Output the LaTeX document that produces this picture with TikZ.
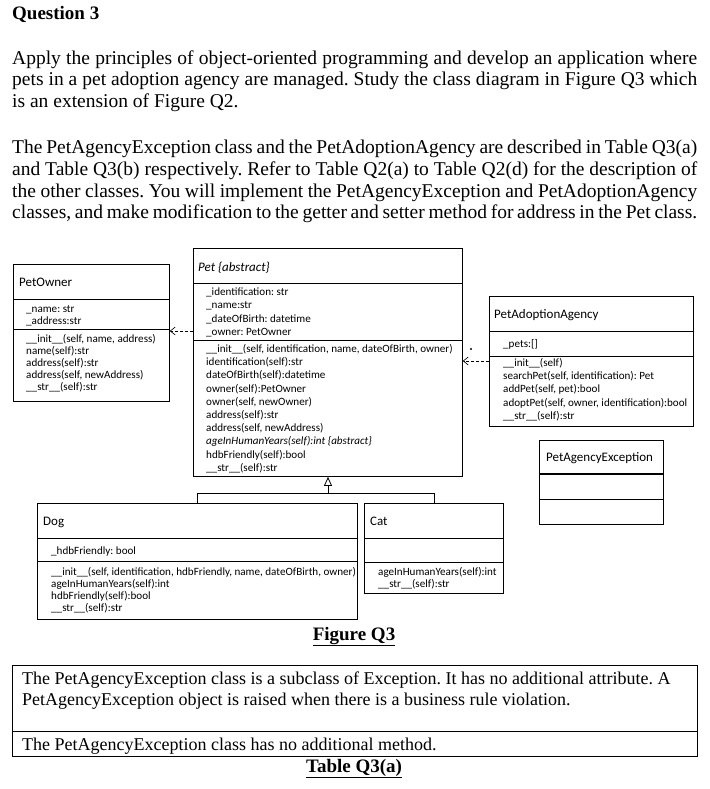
\documentclass[tikz,border=0pt]{standalone}
\usepackage{fontspec}
\setmainfont{Liberation Serif}
\newfontfamily\umlfont{Carlito}
\usetikzlibrary{arrows.meta}
\frenchspacing
\newcommand\umlrows[5]{%
  \foreach \t [count=\i from 0] in {#5} {\node[umlt] (#1-\i) at (#2, #3+\i*#4) {\t};}}
\begin{document}
\begin{tikzpicture}[x=1pt,y=-1pt,
  para/.style={font=\fontsize{19.5}{21}\selectfont, anchor=base west, inner sep=0},
  tabt/.style={font=\fontsize{18}{21}\selectfont, anchor=base west, inner sep=0},
  capt/.style={font=\bfseries\fontsize{19}{22}\selectfont, anchor=base, inner sep=0},
  umlt/.style={font=\umlfont\fontsize{11.1}{13}\selectfont, anchor=base west, inner sep=0},
  umltitle/.style={font=\umlfont\fontsize{13}{15}\selectfont, anchor=base west, inner sep=0},
  umlbox/.style={draw, line width=0.8pt, anchor=north west, inner sep=0},
  divider/.style={line width=0.8pt},
  dep/.style={line width=0.6pt, dash pattern=on 3pt off 2pt, -{Straight Barb[length=5pt,width=8pt,line width=0.6pt]}},
  gen/.style={line width=0.8pt}
]
\useasboundingbox (0,0) rectangle (709,789);

% ---------- text above ----------
\node[para, font=\bfseries\fontsize{19}{21}\selectfont] (q3) at (12,20) {Question 3};
\node[para] (p1a) at (12,65) {\makebox[685pt][s]{Apply the principles of object-oriented programming and develop an application where}};
\node[para] (p1b) at (12,86) {\makebox[685pt][s]{pets in a pet adoption agency are managed. Study the class diagram in Figure Q3 which}};
\node[para] (p1c) at (12,107) {is an extension of Figure Q2.};
\node[para] (p2a) at (12,153) {\makebox[685pt][s]{The PetAgencyException class and the PetAdoptionAgency are described in Table Q3(a)}};
\node[para] (p2b) at (12,175) {\makebox[685pt][s]{and Table Q3(b) respectively. Refer to Table Q2(a) to Table Q2(d) for the description of}};
\node[para] (p2c) at (12,197) {\makebox[685pt][s]{the other classes. You will implement the PetAgencyException and PetAdoptionAgency}};
\node[para] (p2d) at (12,218) {\makebox[685pt][s]{classes, and make modification to the getter and setter method for address in the Pet class.}};

% ---------- PetOwner ----------
\node[umlbox, minimum width=156pt, minimum height=137pt] (owner) at (13,264) {};
\draw[divider] (owner.west |- 0,299) -- (owner.east |- 0,299);
\draw[divider] (owner.west |- 0,329) -- (owner.east |- 0,329);
\node[umltitle] (owner-t) at (19,286.5) {PetOwner};
\umlrows{owner-a}{26}{312.5}{12}{{\_name: str},{\_address:str}}
\umlrows{owner-m}{26}{342.5}{12}{{\_\_init\_\_(self, name, address)},{name(self):str},{address(self):str},{address(self, newAddress)},{\_\_str\_\_(self):str}}

% ---------- Pet ----------
\node[umlbox, minimum width=269pt, minimum height=228pt] (pet) at (193,248) {};
\draw[divider] (pet.west |- 0,283) -- (pet.east |- 0,283);
\draw[divider] (pet.west |- 0,340) -- (pet.east |- 0,340);
\node[umltitle, font=\umlfont\itshape\fontsize{13}{15}\selectfont] (pet-t) at (198,271.5) {Pet \{abstract\}};
\umlrows{pet-a}{206}{295.5}{13.3}{{\_identification: str},{\_name:str},{\_dateOfBirth: datetime},{\_owner: PetOwner}}
\umlrows{pet-m}{206}{352.5}{13.2}{{\_\_init\_\_(self, identification, name, dateOfBirth, owner)},{identification(self):str},{dateOfBirth(self):datetime},{owner(self):PetOwner},{owner(self, newOwner)},{address(self):str},{address(self, newAddress)},{\itshape ageInHumanYears(self):int \{abstract\}},{hdbFriendly(self):bool},{\_\_str\_\_(self):str}}

% ---------- PetAdoptionAgency ----------
\node[umlbox, minimum width=204pt, minimum height=130pt] (paa) at (489,296) {};
\draw[divider] (paa.west |- 0,331) -- (paa.east |- 0,331);
\draw[divider] (paa.west |- 0,356) -- (paa.east |- 0,356);
\node[umltitle] (paa-t) at (494,318.5) {PetAdoptionAgency};
\umlrows{paa-a}{503}{347.5}{13}{{\_pets:[]}}
\umlrows{paa-m}{503}{366.5}{13.2}{{\_\_init\_\_(self)},{searchPet(self, identification): Pet},{addPet(self, pet):bool},{adoptPet(self, owner, identification):bool},{\_\_str\_\_(self):str}}

% ---------- PetAgencyException ----------
\node[umlbox, minimum width=124pt, minimum height=84pt] (pae) at (539,440) {};
\draw[line width=1.4pt] (pae.west |- 0,474) -- (pae.east |- 0,474);
\draw[divider] (pae.west |- 0,499) -- (pae.east |- 0,499);
\node[umltitle] (pae-t) at (546,461.5) {PetAgencyException};

% ---------- Dog ----------
\node[umlbox, minimum width=320pt, minimum height=116pt] (dog) at (37,503) {};
\draw[divider] (dog.west |- 0,538) -- (dog.east |- 0,538);
\draw[divider] (dog.west |- 0,561) -- (dog.east |- 0,561);
\node[umltitle] (dog-t) at (43,525.5) {Dog};
\umlrows{dog-a}{51}{554.5}{12}{{\_hdbFriendly: bool}}
\umlrows{dog-m}{51}{575.5}{12}{{\_\_init\_\_(self, identification, hdbFriendly, name, dateOfBirth, owner)},{ageInHumanYears(self):int},{hdbFriendly(self):bool},{\_\_str\_\_(self):str}}

% ---------- Cat ----------
\node[umlbox, minimum width=139pt, minimum height=90pt] (cat) at (364,503) {};
\draw[divider] (cat.west |- 0,538) -- (cat.east |- 0,538);
\draw[divider] (cat.west |- 0,562) -- (cat.east |- 0,562);
\node[umltitle] (cat-t) at (370,525.5) {Cat};
\umlrows{cat-m}{378}{575.5}{12}{{ageInHumanYears(self):int},{\_\_str\_\_(self):str}}

% ---------- connectors ----------
\coordinate (d1s) at (pet.west |- 0,331);
\coordinate (d1e) at (owner.east |- 0,331);
\draw[dep] (d1s) -- (d1e);
\coordinate (d2s) at (paa.west |- 0,361);
\coordinate (d2e) at (pet.east |- 0,361);
\draw[dep] (d2s) -- (d2e);
\node[circle, fill, inner sep=0pt, minimum size=2.4pt] (mult) at (471,349) {};

\coordinate (gl) at (197,493);
\coordinate (gr) at (434,493);
\coordinate (gj) at (328,493);
\draw[gen] (dog.north west -| gl) -- (gl) -- (gr) -- (cat.north west -| gr);
\draw[gen, -{Triangle[open, length=9pt, width=8pt, line width=0.8pt]}] (gj) -- (pet.south -| gj);

% ---------- caption ----------
\node[capt] (figcap) at (354,640) {\underline{Figure Q3}};

% ---------- table ----------
\node[draw, line width=0.9pt, anchor=north west, inner sep=0, minimum width=685pt, minimum height=91pt] (tbl) at (12,665) {};
\draw[line width=0.9pt] (tbl.west |- 0,731) -- (tbl.east |- 0,731);
\node[tabt] (t1) at (22,684) {The PetAgencyException class is a subclass of Exception. It has no additional attribute. A};
\node[tabt] (t2) at (22,705) {PetAgencyException object is raised when there is a business rule violation.};
\node[tabt] (t3) at (22,750) {The PetAgencyException class has no additional method.};
\node[capt] (tblcap) at (354,772) {\underline{Table Q3(a)}};
\end{tikzpicture}
\end{document}
